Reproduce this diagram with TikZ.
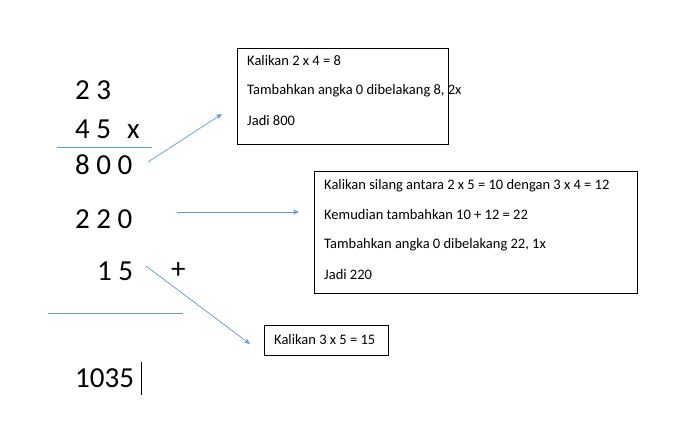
\documentclass[tikz,border=0pt]{standalone}
\usepackage{fontspec}
\setmainfont{Carlito}
\usetikzlibrary{arrows.meta}
\definecolor{ab}{RGB}{91,155,213}
\begin{document}
\begin{tikzpicture}[x=1pt,y=-1pt,
  big/.style={anchor=west,inner sep=0pt,font=\fontsize{29}{29}\selectfont},
  small/.style={anchor=west,inner sep=0pt,font=\fontsize{14.5}{14.5}\selectfont},
  boxx/.style={draw,line width=0.8pt},
  arr/.style={draw=ab,line width=0.7pt,-{Stealth[length=6pt,width=5pt]}},
  rule/.style={draw=ab,line width=0.7pt}]
\useasboundingbox (0,0) rectangle (689,429);
\node[big] (a) at (75,90) {2 3};
\node[big] (b) at (75,129) {4 5\hspace{16pt}x};
\coordinate (l1a) at (57,147); \coordinate (l1b) at (152,147);
\draw[rule] (l1a) -- (l1b);
\node[big] (c) at (75,165) {8 0 0};
\node[big] (d) at (75,219) {2 2 0};
\node[big] (e) at (97,271) {1 5};
\node[big] (p) at (171,271) {+};
\coordinate (l2a) at (48,313); \coordinate (l2b) at (183,313);
\draw[rule] (l2a) -- (l2b);
\node[big] (f) at (75,378) {1035};
\coordinate (ca) at (141,362); \coordinate (cb) at (141,395);
\draw[line width=0.6pt] (ca) -- (cb);
\draw[boxx] (237,48) rectangle (448,144);
\node[small] (t1) at (247,61) {Kalikan 2 x 4 = 8};
\node[small] (t2) at (247,91) {Tambahkan angka 0 dibelakang 8, 2x};
\node[small] (t3) at (247,121) {Jadi 800};
\draw[boxx] (314,171) rectangle (637,293);
\node[small] (u1) at (324,186) {Kalikan silang antara 2 x 5 = 10 dengan 3 x 4 = 12};
\node[small] (u2) at (324,215) {Kemudian tambahkan 10 + 12 = 22};
\node[small] (u3) at (324,245) {Tambahkan angka 0 dibelakang 22, 1x};
\node[small] (u4) at (324,275) {Jadi 220};
\draw[boxx] (264,325) rectangle (388,355);
\node[small] (v1) at (274,340) {Kalikan 3 x 5 = 15};
\coordinate (s1) at (148,162); \coordinate (e1) at (222,114);
\coordinate (s2) at (177,212); \coordinate (e2) at (299,212);
\coordinate (s3) at (146,266); \coordinate (e3) at (250,344);
\draw[arr] (s1) -- (e1);
\draw[arr] (s2) -- (e2);
\draw[arr] (s3) -- (e3);
\end{tikzpicture}
\end{document}
